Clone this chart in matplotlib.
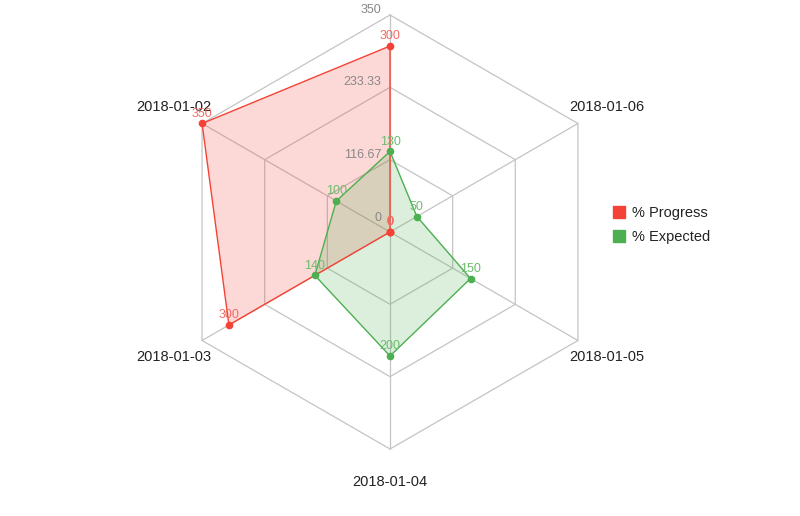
import numpy as np
import matplotlib
matplotlib.use("Agg")
import matplotlib.pyplot as plt

plt.rcParams['font.family'] = ['Liberation Sans', 'DejaVu Sans']

## data
categories = ['2018-01-01', '2018-01-02', '2018-01-03', '2018-01-04', '2018-01-05', '2018-01-06']
progress = [300, 350, 300, 0, 0, 0]
expected = [130, 100, 140, 200, 150, 50]
ticks = [0, 116.67, 233.33, 350]
tick_labels = ['0', '116.67', '233.33', '350']
series_names = ['% Progress', '% Expected']
colors = ['#f44336', '#4caf50']
label_colors = ['#f26b62', '#6cbb6e']

W, H = 800, 516
cx, cy = 390, 232          # centre in pixels (from top-left)
rmax_px = 217
k = rmax_px / 350.0        # pixels per value unit

fig = plt.figure(figsize=(W / 100, H / 100), dpi=100)
ax = fig.add_axes([0, 0, 1, 1])
ax.set_xlim(-cx / k, (W - cx) / k)
ax.set_ylim(-(H - cy) / k, cy / k)
ax.axis('off')

n = len(categories)
ang = np.pi / 2 + 2 * np.pi * np.arange(n) / n   # counter-clockwise from top
ca, sa = np.cos(ang), np.sin(ang)

# grid: hexagon rings and spokes
for t in ticks[1:]:
    ax.plot(np.append(t * ca, t * ca[0]), np.append(t * sa, t * sa[0]),
            color='#c4c4c4', lw=0.9, zorder=1)
for i in range(n):
    ax.plot([0, 350 * ca[i]], [0, 350 * sa[i]], color='#c4c4c4', lw=0.9, zorder=1)

# tick labels
for t, lab in zip(ticks, tick_labels):
    dy = 14 if t == 0 else 5
    ax.annotate(lab, (0, t), xytext=(-6, dy * 0.72), textcoords='offset points',
                ha='right', va='center', fontsize=9, color='#888888', zorder=5)

# category labels (the top one falls outside the canvas in the original)
for i, c in enumerate(categories):
    if i == 0:
        continue
    r = 350 + 33 / k
    ax.text(r * ca[i], r * sa[i], c, ha='center', va='center',
            fontsize=10.5, color='#222222', zorder=5)

# series
for vals, col, lcol in zip([progress, expected], colors, label_colors):
    v = np.array(vals, dtype=float)
    xs, ys = v * ca, v * sa
    ax.fill(xs, ys, color=col, alpha=0.2, lw=0, zorder=2)
    ax.plot(np.append(xs, xs[0]), np.append(ys, ys[0]), color=col, lw=1.0, zorder=3)
    ax.plot(xs, ys, 'o', color=col, ms=4.5, zorder=4)
    for x, y, val in zip(xs, ys, vals):
        ax.annotate(str(val), (x, y), xytext=(0, 7), textcoords='offset points',
                    ha='center', va='center', fontsize=9, color=lcol, zorder=6)

# legend
for j, (name, col) in enumerate(zip(series_names, colors)):
    ly = 212 + 24 * j
    fig.patches.append(plt.Rectangle((613 / W, 1 - (ly + 6) / H), 12 / W, 12 / H,
                                     transform=fig.transFigure, color=col))
    fig.text(632 / W, 1 - (ly + 1) / H, name, ha='left', va='center',
             fontsize=10.5, color='#222222')

fig.savefig('out.png', dpi=100)
